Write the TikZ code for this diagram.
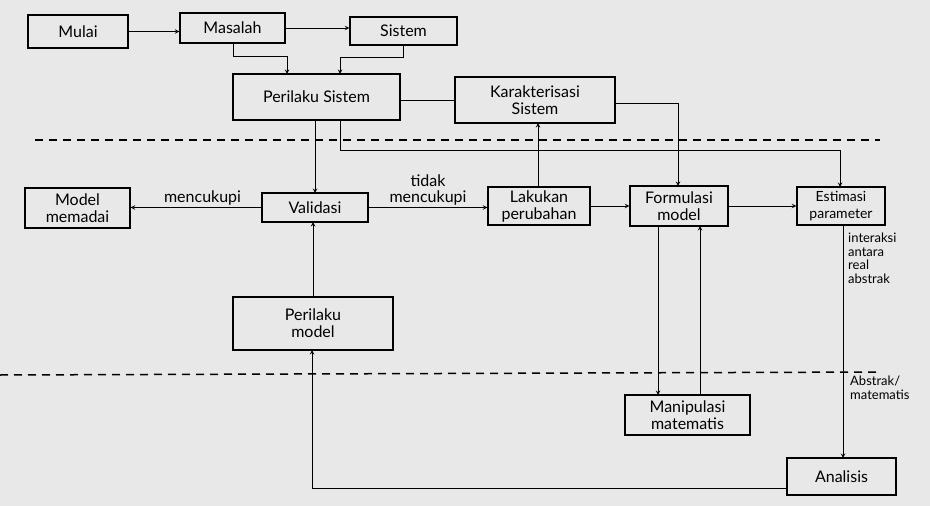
\documentclass[tikz,border=0pt]{standalone}
\usepackage{fontspec}
\setmainfont{Lato}
\begin{document}
\begin{tikzpicture}[x=1pt,y=-1pt,
  box/.style={draw,line width=1.3pt,align=center,inner sep=1pt,font=\fontsize{16}{17}\selectfont},
  arr/.style={->,>=stealth,line width=1pt},
  ln/.style={line width=1pt},
  lbl/.style={font=\fontsize{16}{16}\selectfont,align=left,inner sep=1pt},
  dashln/.style={line width=1.5pt,dash pattern=on 8pt off 6pt}]
\fill[gray!18] (0,0) rectangle (930,506);
\useasboundingbox (0,0) rectangle (930,506);
\def\bx#1#2#3#4#5#6{\node[box,minimum width=#4-#2,minimum height=#5-#3] (#1) at ({(#2+#4)/2},{(#3+#5)/2}) {#6};}
\bx{mulai}{28}{15}{128}{48}{Mulai}
\bx{masalah}{180}{13}{285}{43}{Masalah}
\bx{sistem}{350}{17}{457}{45}{Sistem}
\bx{ps}{233}{74}{400}{120}{Perilaku Sistem}
\bx{kar}{455}{77}{615}{123}{Karakterisasi\\Sistem}
\bx{mm}{25}{188}{130}{228}{Model\\memadai}
\bx{val}{262}{193}{368}{222}{Validasi}
\bx{lak}{488}{187}{590}{225}{Lakukan\\perubahan}
\bx{form}{630}{186}{728}{226}{Formulasi\\model}
\bx{est}{797}{187}{885}{225}{\fontsize{14}{15}\selectfont Estimasi\\\fontsize{14}{15}\selectfont parameter}
\bx{pm}{233}{297}{393}{350}{Perilaku\\model}
\bx{man}{625}{395}{750}{435}{Manipulasi\\matematis}
\bx{ana}{787}{458}{896}{495}{Analisis}
\draw[dashln] (35,140) -- (880,140);
\draw[dashln] (0,375) -- (880,372);
\draw[arr] (mulai.east) -- (masalah.west|-mulai.east);
\draw[arr] (masalah.east) -- (sistem.west|-masalah.east);
\draw[arr] (233,43) -- (233,56) -- (287,56) -- (287,74);
\draw[arr] (403,45) -- (403,57) -- (340,57) -- (340,74);
\draw[ln] (ps.east|-0,100) -- (kar.west|-0,100);
\draw[arr] (kar.east|-0,103) -- (678,103) -- (678,186);
\draw[arr] (315,120) -- (315,193);
\draw[arr] (340,120) -- (340,150) -- (840,150) -- (840,187);
\draw[arr] (val.west) -- node[lbl,above=1pt,pos=0.45]{mencukupi} (mm.east|-val.west);
\draw[arr] (val.east) -- node[lbl,above=1pt,align=center]{tidak\\mencukupi} (lak.west|-val.east);
\draw[arr] (538,187) -- (538,123);
\draw[arr] (lak.east|-0,206) -- (form.west|-0,206);
\draw[arr] (form.east|-0,206) -- (est.west|-0,206);
\draw[arr] (658,226) -- (658,395);
\draw[arr] (700,395) -- (700,226);
\draw[arr] (843,225) -- (843,458);
\node[lbl,anchor=north west,font=\fontsize{13}{13.5}\selectfont] (ia) at (847,232) {interaksi\\antara\\real\\abstrak};
\node[lbl,anchor=north west,font=\fontsize{13}{13.5}\selectfont] (am) at (849,375) {Abstrak/\\matematis};
\draw[arr] (ana.west|-0,488) -- (312,488) -- (312,350);
\draw[arr] (313,297) -- (313,222);
\end{tikzpicture}
\end{document}
